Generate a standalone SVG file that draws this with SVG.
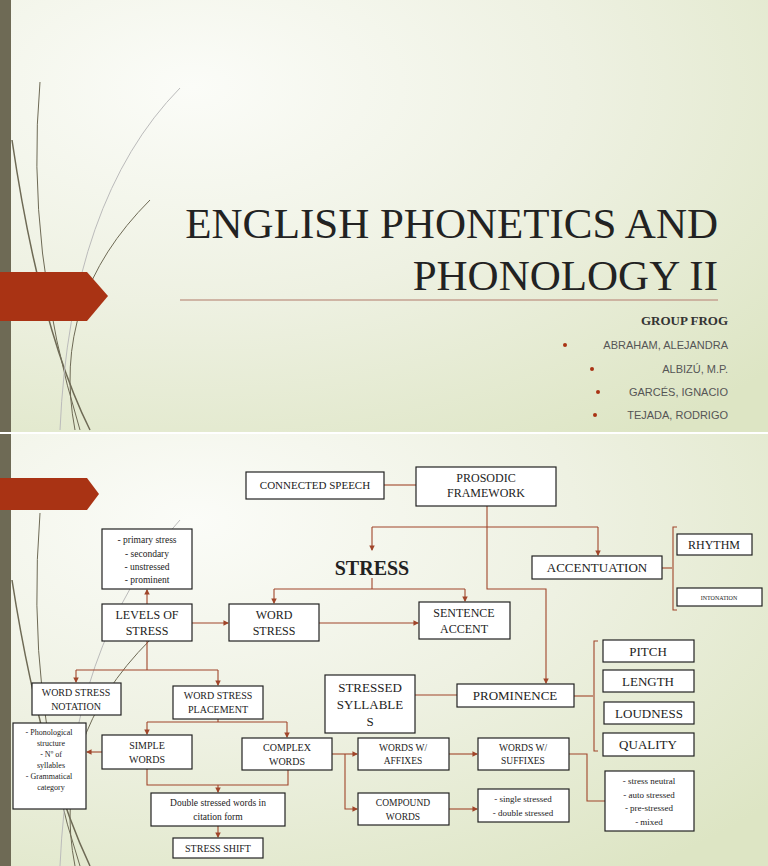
<svg xmlns="http://www.w3.org/2000/svg" width="768" height="866" viewBox="0 0 768 866" font-size="11">
<defs>
<radialGradient id="bg" cx="0.25" cy="0.2" r="1">
<stop offset="0" stop-color="#fbfcf8"/><stop offset="0.5" stop-color="#eef1e2"/><stop offset="1" stop-color="#dde5c4"/>
</radialGradient>
<marker id="ar" viewBox="0 0 6 6" refX="5" refY="3" markerWidth="5" markerHeight="5" orient="auto"><path d="M0,0 L6,3 L0,6 z" fill="#a0452a"/></marker>
<style>
.b{fill:#fff;stroke:#222;stroke-width:1.2}
.t{font-family:"Liberation Serif",serif;fill:#222;text-anchor:middle}
.c{fill:none;stroke:#a0452a;stroke-width:1.1}
.a{marker-end:url(#ar)}
.d{fill:none;stroke:#6e6a55}
.n{font-family:"Liberation Sans",sans-serif;fill:#555;text-anchor:end}
</style>
</defs>
<rect width="768" height="866" fill="#fff"/>
<rect y="0" width="768" height="432" fill="url(#bg)"/>
<rect y="434" width="768" height="432" fill="url(#bg)"/>
<g id="deco1">
<rect x="0" y="0" width="11" height="432" fill="#6e6a55"/>
<path class="d" d="M40 82 Q25 250 80 430" stroke-width="1"/>
<path class="d" d="M12 140 Q40 330 90 430" stroke-width="1.5"/>
<path class="d" d="M150 200 Q50 300 75 430" stroke-width="1"/>
<path d="M180 88 Q70 200 60 430" fill="none" stroke="#bbb" stroke-width="1"/>
<path d="M0 272 H87 L108 296 L87 321 H0 z" fill="#a93314"/>
<text x="718" y="238" font-family="Liberation Serif,serif" font-size="43" fill="#222" text-anchor="end">ENGLISH PHONETICS AND</text>
<text x="718" y="290" font-family="Liberation Serif,serif" font-size="43" fill="#222" text-anchor="end">PHONOLOGY II</text>
<line x1="180" y1="300" x2="718" y2="300" stroke="#c4a090" stroke-width="1.5"/>
<text x="728" y="325" font-family="Liberation Serif,serif" font-size="13" font-weight="bold" fill="#333" text-anchor="end">GROUP FROG</text>
<text class="n" x="728" y="349">ABRAHAM, ALEJANDRA</text>
<text class="n" x="728" y="373">ALBIZÚ, M.P.</text>
<text class="n" x="728" y="396">GARCÉS, IGNACIO</text>
<text class="n" x="728" y="419">TEJADA, RODRIGO</text>
<circle cx="565" cy="345" r="2" fill="#a93314"/>
<circle cx="592" cy="369" r="2" fill="#a93314"/>
<circle cx="598" cy="392" r="2" fill="#a93314"/>
<circle cx="595" cy="415" r="2" fill="#a93314"/>
</g>
<g id="deco2">
<rect x="0" y="434" width="11" height="432" fill="#6e6a55"/>
<path class="d" d="M40 513 Q25 700 80 866" stroke-width="1"/>
<path class="d" d="M12 580 Q40 760 90 866" stroke-width="1.5"/>
<path class="d" d="M150 640 Q50 740 75 866" stroke-width="1"/>
<path d="M180 520 Q70 640 60 866" fill="none" stroke="#bbb" stroke-width="1"/>
<path d="M0 478 H87 L99 494 L87 510 H0 z" fill="#a93314"/>
</g>
<g id="connectors">
<path class="c" d="M384 485 H416"/>
<path class="c" d="M487 506 V527 M372 527 H598"/>
<path class="c a" d="M372 527 V550"/>
<path class="c a" d="M598 527 V555"/>
<path class="c a" d="M487 527 V589 H546 V683"/>
<path class="c" d="M372 578 V589 M274 589 H465"/>
<path class="c a" d="M274 589 V603"/>
<path class="c a" d="M465 589 V601"/>
<path class="c a" d="M192 623 H228"/>
<path class="c a" d="M319 623 H418"/>
<path class="c a" d="M147 604 V590"/>
<path class="c" d="M147 641 V670 M76 670 H218"/>
<path class="c a" d="M76 670 V682"/>
<path class="c a" d="M218 670 V685"/>
<path class="c" d="M218 719 V722 M147 722 H287"/>
<path class="c a" d="M147 722 V734"/>
<path class="c a" d="M287 722 V737"/>
<path class="c a" d="M102 752 H87"/>
<path class="c" d="M147 769 V785 H288 V770"/>
<path class="c a" d="M218 785 V792"/>
<path class="c a" d="M218 826 V837"/>
<path class="c a" d="M332 754 H357"/>
<path class="c a" d="M345 754 V809 H357"/>
<path class="c a" d="M449 754 H477"/>
<path class="c a" d="M449 809 H477"/>
<path class="c" d="M569 754 H587 V801 H605"/>
<path class="c" d="M415 695 H457"/>
<path class="c" d="M574 696 H593"/>
<path class="c" d="M662 568 H672"/>
<path class="c" d="M677 527 H673 V610 H677"/>
<path class="c" d="M598 641 H594 V751 H598"/>
</g>
<g id="n-cs"><rect class="b" x="246" y="472" width="138" height="27"/><text class="t" x="315" y="489">CONNECTED SPEECH</text></g>
<g id="n-pf"><rect class="b" x="416" y="467" width="140" height="39"/><text class="t" x="486" y="482" font-size="12">PROSODIC</text><text class="t" x="486" y="497" font-size="12">FRAMEWORK</text></g>
<g id="n-stress"><text class="t" x="372" y="575" font-size="20" font-weight="bold" fill="#444">STRESS</text></g>
<g id="n-levels-list"><rect class="b" x="102" y="529" width="90" height="60"/>
<text class="t" x="147" y="543" font-size="9.5">- primary stress</text><text class="t" x="147" y="557" font-size="9.5">- secondary</text><text class="t" x="147" y="570" font-size="9.5">- unstressed</text><text class="t" x="147" y="583" font-size="9.5">- prominent</text></g>
<g id="n-levels"><rect class="b" x="102" y="604" width="90" height="37"/><text class="t" x="147" y="619" font-size="12">LEVELS OF</text><text class="t" x="147" y="635" font-size="12">STRESS</text></g>
<g id="n-ws"><rect class="b" x="229" y="604" width="90" height="37"/><text class="t" x="274" y="619" font-size="12">WORD</text><text class="t" x="274" y="635" font-size="12">STRESS</text></g>
<g id="n-sa"><rect class="b" x="419" y="602" width="91" height="37"/><text class="t" x="464" y="617" font-size="12">SENTENCE</text><text class="t" x="464" y="633" font-size="12">ACCENT</text></g>
<g id="n-acc"><rect class="b" x="532" y="556" width="130" height="23"/><text class="t" x="597" y="572" font-size="13">ACCENTUATION</text></g>
<g id="n-rhythm"><rect class="b" x="677" y="534" width="75" height="21"/><text class="t" x="714" y="549" font-size="12">RHYTHM</text></g>
<g id="n-inton"><rect class="b" x="677" y="588" width="85" height="18"/><text class="t" x="719" y="600" font-size="6">INTONATION</text></g>
<g id="n-pitch"><rect class="b" x="603" y="640" width="91" height="22"/><text class="t" x="648" y="656" font-size="13">PITCH</text></g>
<g id="n-length"><rect class="b" x="603" y="670" width="91" height="22"/><text class="t" x="648" y="686" font-size="13">LENGTH</text></g>
<g id="n-loud"><rect class="b" x="604" y="702" width="90" height="22"/><text class="t" x="649" y="718" font-size="13">LOUDNESS</text></g>
<g id="n-quality"><rect class="b" x="603" y="733" width="91" height="23"/><text class="t" x="648" y="749" font-size="13">QUALITY</text></g>
<g id="n-prom"><rect class="b" x="457" y="684" width="117" height="23"/><text class="t" x="515" y="700" font-size="13">PROMINENCE</text></g>
<g id="n-ss"><rect class="b" x="325" y="675" width="90" height="58"/><text class="t" x="370" y="692" font-size="13">STRESSED</text><text class="t" x="370" y="709" font-size="13">SYLLABLE</text><text class="t" x="370" y="726" font-size="13">S</text></g>
<g id="n-wsn"><rect class="b" x="32" y="683" width="89" height="32"/><text class="t" x="76" y="696" font-size="10">WORD STRESS</text><text class="t" x="76" y="710" font-size="10">NOTATION</text></g>
<g id="n-wsp"><rect class="b" x="173" y="686" width="90" height="33"/><text class="t" x="218" y="699" font-size="10">WORD STRESS</text><text class="t" x="218" y="713" font-size="10">PLACEMENT</text></g>
<g id="n-phon"><rect class="b" x="13" y="723" width="73" height="86"/>
<text class="t" x="49" y="735" font-size="8">-   Phonological</text><text class="t" x="51" y="746" font-size="8">structure</text><text class="t" x="51" y="757" font-size="8">-  Nº of</text><text class="t" x="51" y="768" font-size="8">syllables</text><text class="t" x="49" y="779" font-size="8">-   Grammatical</text><text class="t" x="51" y="790" font-size="8">category</text></g>
<g id="n-simple"><rect class="b" x="102" y="735" width="90" height="34"/><text class="t" x="147" y="749" font-size="10">SIMPLE</text><text class="t" x="147" y="763" font-size="10">WORDS</text></g>
<g id="n-complex"><rect class="b" x="242" y="738" width="90" height="32"/><text class="t" x="287" y="751" font-size="10">COMPLEX</text><text class="t" x="287" y="765" font-size="10">WORDS</text></g>
<g id="n-affix"><rect class="b" x="358" y="738" width="91" height="32"/><text class="t" x="403" y="751" font-size="9.5">WORDS W/</text><text class="t" x="403" y="764" font-size="9.5">AFFIXES</text></g>
<g id="n-suffix"><rect class="b" x="478" y="738" width="91" height="32"/><text class="t" x="523" y="751" font-size="9.5">WORDS W/</text><text class="t" x="523" y="764" font-size="9.5">SUFFIXES</text></g>
<g id="n-compound"><rect class="b" x="358" y="793" width="91" height="32"/><text class="t" x="403" y="806" font-size="9.5">COMPOUND</text><text class="t" x="403" y="820" font-size="9.5">WORDS</text></g>
<g id="n-sd"><rect class="b" x="478" y="789" width="91" height="33"/><text class="t" x="523" y="802" font-size="9">- single stressed</text><text class="t" x="523" y="816" font-size="9">- double stressed</text></g>
<g id="n-sn"><rect class="b" x="605" y="771" width="89" height="60"/><text class="t" x="649" y="784" font-size="9">- stress neutral</text><text class="t" x="649" y="798" font-size="9">- auto stressed</text><text class="t" x="649" y="811" font-size="9">- pre-stressed</text><text class="t" x="649" y="825" font-size="9">- mixed</text></g>
<g id="n-double"><rect class="b" x="151" y="793" width="134" height="33"/><text class="t" x="218" y="806" font-size="9.5">Double stressed words in</text><text class="t" x="218" y="820" font-size="9.5">citation form</text></g>
<g id="n-shift"><rect class="b" x="173" y="838" width="90" height="20"/><text class="t" x="218" y="852" font-size="10">STRESS SHIFT</text></g>
</svg>
